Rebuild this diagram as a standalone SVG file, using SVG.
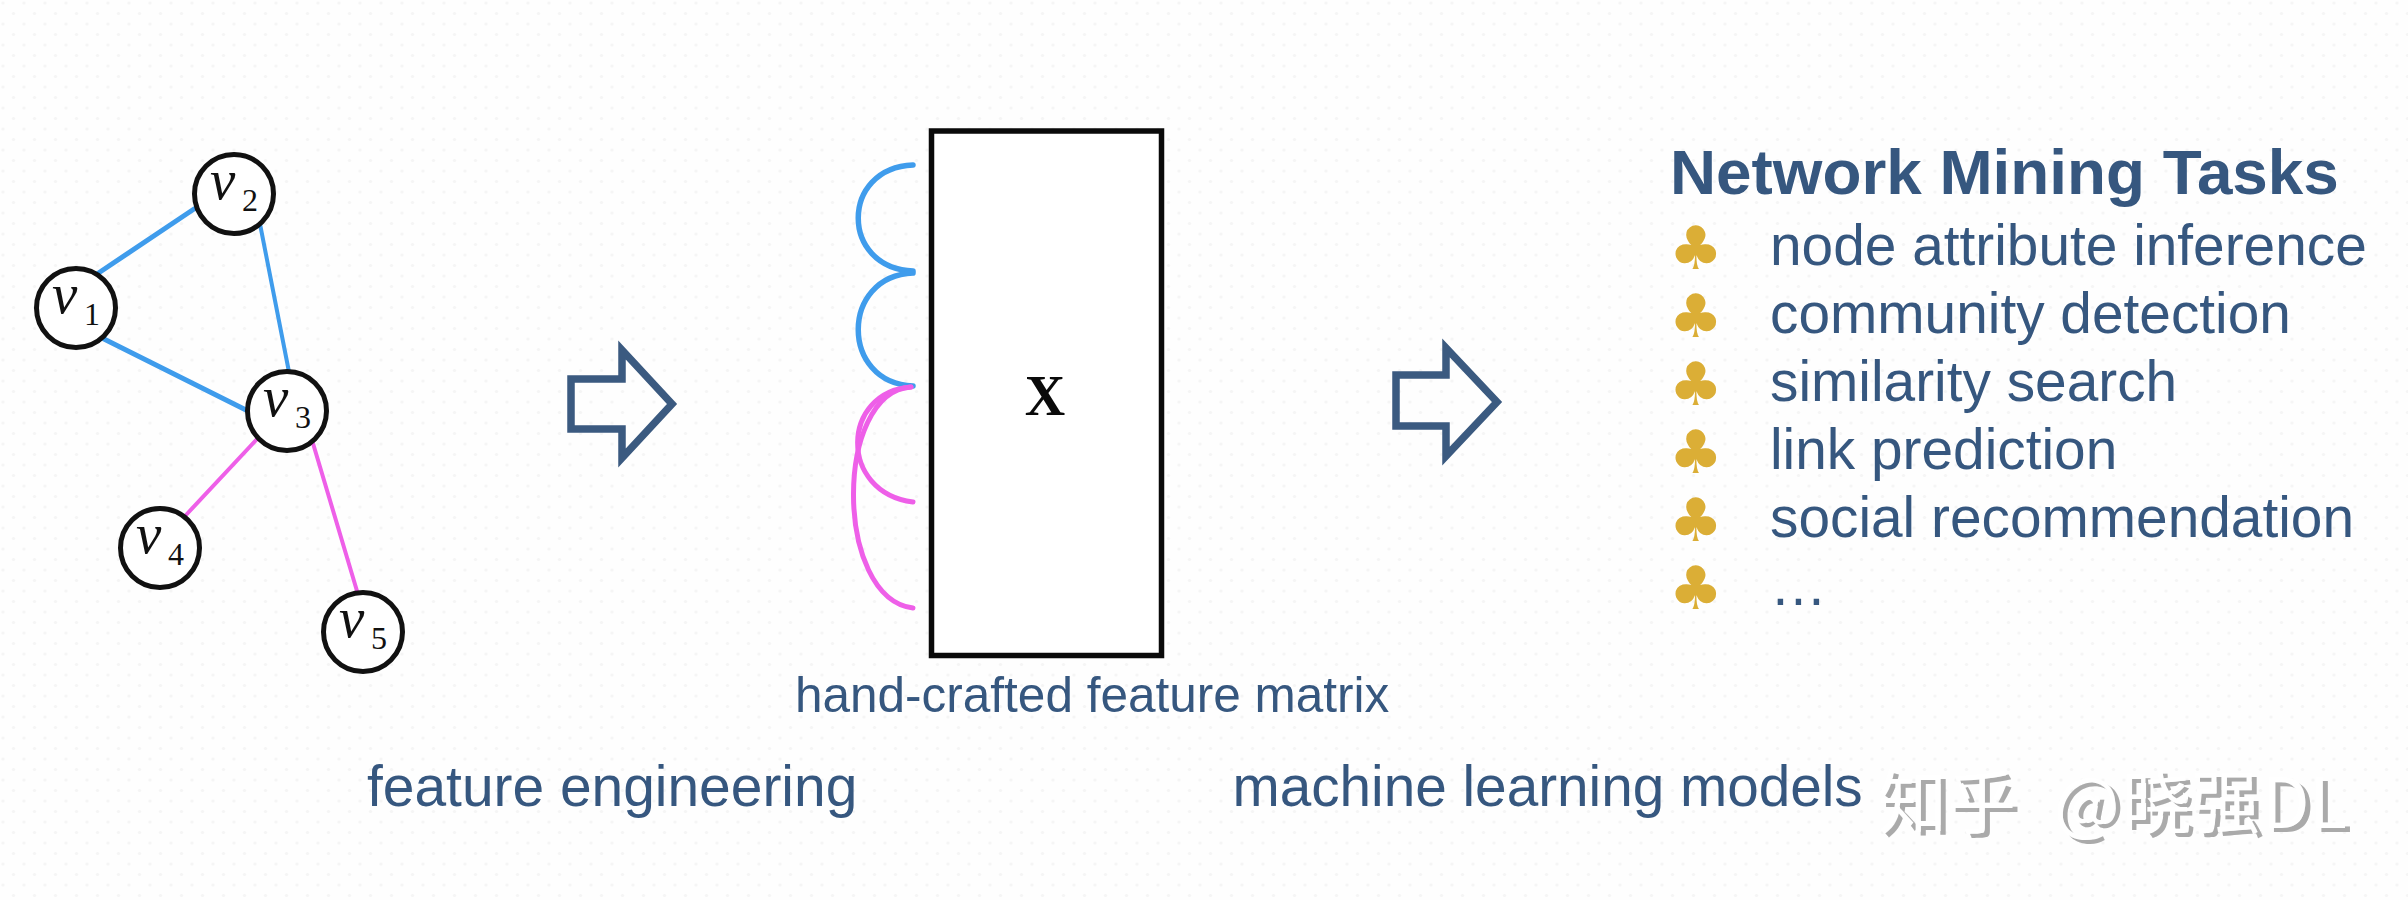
<svg xmlns="http://www.w3.org/2000/svg" width="2408" height="900" viewBox="0 0 2408 900">
<style>
.n{fill:#fff;stroke:#111;stroke-width:5}
.v{font-family:"Liberation Serif",serif;font-style:italic;font-size:57px;fill:#111}
.s{font-family:"Liberation Serif",serif;font-size:32px;fill:#111}
.e{fill:none;stroke-linecap:round}
.b{stroke:#3f9cec}
.p{stroke:#ee5fe8}
.a{fill:none;stroke:#3b5a80;stroke-width:7.5;stroke-miterlimit:10}
.t{font-family:"Liberation Sans",Arial,sans-serif;fill:#36577f}
.c{font-family:"DejaVu Sans",sans-serif;font-size:60px;fill:#dbae36;text-anchor:middle}
</style>
<defs>
<pattern id="dots" width="21" height="21" patternUnits="userSpaceOnUse">
<rect width="21" height="21" fill="#fefefe"/>
<circle cx="3" cy="3" r="1.6" fill="#f5f5f5"/>
<circle cx="13.5" cy="13.5" r="1.6" fill="#f5f5f5"/>
</pattern>
<filter id="wm" filterUnits="userSpaceOnUse" x="1860" y="750" width="510" height="110">
<feOffset in="SourceAlpha" dx="5" dy="4" result="o"/>
<feFlood flood-color="#aaaaaa"/>
<feComposite in2="o" operator="in" result="g"/>
<feMerge><feMergeNode in="g"/><feMergeNode in="SourceGraphic"/></feMerge>
</filter>
</defs>
<rect id="background" width="2408" height="900" fill="url(#dots)"/>
<g id="connectors">
<line class="e b" stroke-width="5" x1="97" y1="274" x2="194" y2="209"/>
<line class="e b" stroke-width="4" x1="260" y1="224" x2="289" y2="372"/>
<line class="e b" stroke-width="5" x1="104" y1="339" x2="246" y2="410"/>
<line class="e p" stroke-width="4" x1="257" y1="439" x2="186" y2="515"/>
<line class="e p" stroke-width="4" x1="312" y1="440" x2="357" y2="591"/>
<path class="e b" stroke-width="5.5" d="M913 165C840 168 840 268 913 271"/>
<path class="e b" stroke-width="5.500" d="M913 273C840 276 840 383 913 386"/>
<path class="e p" stroke-width="5" d="M911 387C841 392 838 492 913 502"/>
<path class="e p" stroke-width="5" d="M911 387C834 392 834 598 913 608"/>
</g>
<g id="node-v1"><circle class="n" cx="76" cy="308" r="39.500"/><text class="v" x="52" y="313">v</text><text class="s" x="84" y="325">1</text></g>
<g id="node-v2"><circle class="n" cx="234" cy="194" r="39.500"/><text class="v" x="210" y="199">v</text><text class="s" x="242" y="211">2</text></g>
<g id="node-v3"><circle class="n" cx="287" cy="411" r="39.500"/><text class="v" x="263" y="416">v</text><text class="s" x="295" y="428">3</text></g>
<g id="node-v4"><circle class="n" cx="160" cy="548" r="39.500"/><text class="v" x="136" y="553">v</text><text class="s" x="168" y="565">4</text></g>
<g id="node-v5"><circle class="n" cx="363" cy="632" r="39.500"/><text class="v" x="339" y="637">v</text><text class="s" x="371" y="649">5</text></g>
<path id="arrow-1" class="a" d="M571 379H622V350L672 404L622 458V429H571Z"/>
<g id="matrix">
<rect x="931.500" y="131" width="230" height="524.500" fill="#fff" stroke="#0a0a0a" stroke-width="5.500"/>
<text x="1045" y="415" text-anchor="middle" font-family="Liberation Serif,serif" font-weight="700" font-size="56" fill="#0a0a0a">X</text>
</g>
<path id="arrow-2" class="a" d="M1396 375H1446V348L1497 402L1446 456V426H1396Z"/>
<text class="t" id="matrix-label" x="795" y="712" font-size="49.500">hand-crafted feature matrix</text>
<text class="t" id="label-fe" x="367" y="806" font-size="56.900">feature engineering</text>
<text class="t" id="label-ml" x="1232.500" y="806" font-size="56.700">machine learning models</text>
<g id="tasks">
<text class="t" x="1670" y="194" font-size="63.800" font-weight="700">Network Mining Tasks</text>
<text class="c" x="1696" y="269">♣</text><text class="t" x="1770" y="264.500" font-size="56.800">node attribute inference</text>
<text class="c" x="1696" y="337">♣</text><text class="t" x="1770" y="332.500" font-size="56.800">community detection</text>
<text class="c" x="1696" y="405">♣</text><text class="t" x="1770" y="400.500" font-size="56.800">similarity search</text>
<text class="c" x="1696" y="473">♣</text><text class="t" x="1770" y="468.500" font-size="56.800">link prediction</text>
<text class="c" x="1696" y="541">♣</text><text class="t" x="1770" y="536.500" font-size="56.800">social recommendation</text>
<text class="c" x="1696" y="609">♣</text><text class="t" x="1770" y="604.500" font-size="56.800">…</text>
</g>
<text id="watermark" y="828" font-family="Noto Sans CJK SC,sans-serif" font-size="69" fill="#fff" filter="url(#wm)"><tspan x="1878">知乎</tspan><tspan x="2054">@</tspan><tspan x="2122">晓强</tspan><tspan x="2262">DL</tspan></text>
</svg>
